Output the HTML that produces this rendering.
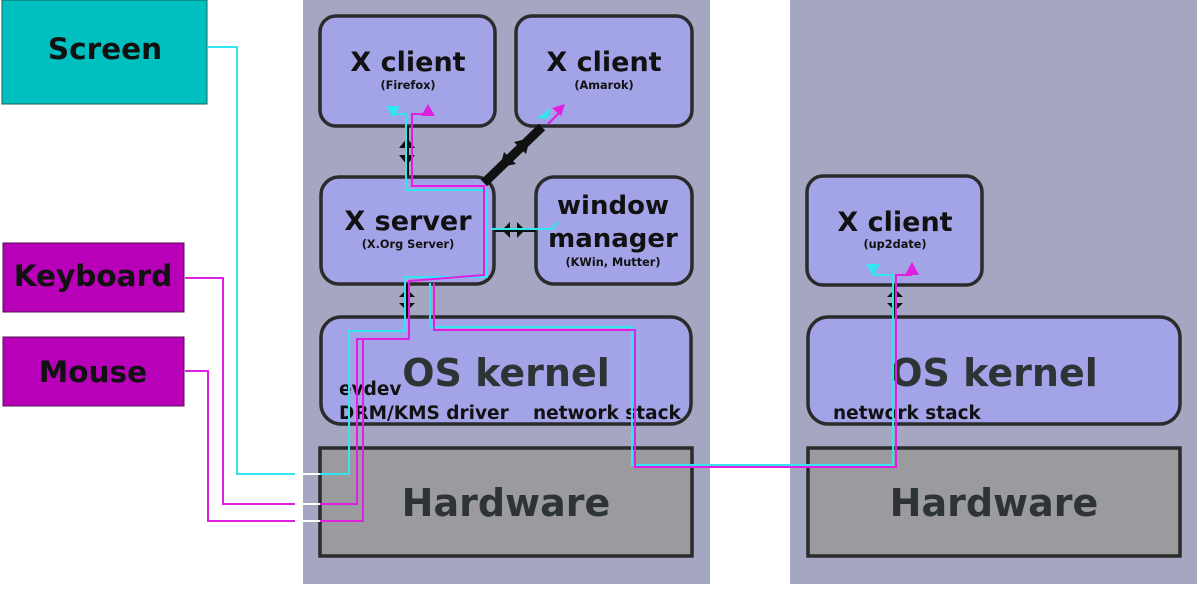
<!DOCTYPE html>
<html><head><meta charset="utf-8"><style>
html,body{margin:0;padding:0;background:#fff;}
svg{display:block;font-family:"DejaVu Sans","Liberation Sans",sans-serif;font-weight:bold;}
</style></head><body>
<svg width="1200" height="600" viewBox="0 0 1200 600" xmlns="http://www.w3.org/2000/svg">
<rect x="303" y="0" width="407" height="584" fill="#a5a7c2"/>
<rect x="790" y="0" width="407" height="584" fill="#a5a7c2"/>

<rect x="2" y="0" width="205" height="104" fill="#00bfbf" stroke="#1a6060" stroke-width="1"/>
<text x="105" y="59" font-size="29.5" text-anchor="middle" fill="#111">Screen</text>
<rect x="3" y="243" width="181" height="69" fill="#b800b8" stroke="#501050" stroke-width="1"/>
<text x="93" y="286" font-size="29.5" text-anchor="middle" fill="#111">Keyboard</text>
<rect x="3" y="337" width="181" height="69" fill="#b800b8" stroke="#501050" stroke-width="1"/>
<text x="93" y="382" font-size="29.5" text-anchor="middle" fill="#111">Mouse</text>

<g stroke="#2b2b2b" stroke-width="3.5" fill="#a3a3e8">
<rect x="320" y="16" width="175" height="110" rx="16"/>
<rect x="516" y="16" width="176" height="110" rx="16"/>
<rect x="321" y="177" width="173" height="107" rx="18"/>
<rect x="536" y="177" width="156" height="107" rx="18"/>
<rect x="321" y="317" width="370" height="107" rx="20"/>
<rect x="807" y="176" width="175" height="109" rx="16"/>
<rect x="808" y="317" width="372" height="107" rx="20"/>
<rect x="320" y="448" width="372" height="108" fill="#9b9a9f"/>
<rect x="808" y="448" width="372" height="108" fill="#9b9a9f"/>
</g>

<g fill="#111" text-anchor="middle">
<text x="408" y="71" font-size="27">X client</text>
<text x="408" y="89" font-size="11.3">(Firefox)</text>
<text x="604" y="71" font-size="27">X client</text>
<text x="604" y="89" font-size="11.3">(Amarok)</text>
<text x="408" y="230" font-size="27">X server</text>
<text x="408" y="248" font-size="11.3">(X.Org Server)</text>
<text x="613" y="214" font-size="26">window</text>
<text x="613" y="247" font-size="26">manager</text>
<text x="613" y="266" font-size="11.3">(KWin, Mutter)</text>
<text x="895" y="231" font-size="27">X client</text>
<text x="895" y="248" font-size="11.3">(up2date)</text>
</g>
<g fill="#2e3336" text-anchor="middle" font-size="38">
<text x="506" y="386">OS kernel</text>
<text x="994" y="386">OS kernel</text>
<text x="506" y="516">Hardware</text>
<text x="994" y="516">Hardware</text>
</g>
<g fill="#111" font-size="18.5">
<text x="339" y="395">evdev</text>
<text x="339" y="419">DRM/KMS driver</text>
<text x="533" y="419">network stack</text>
<text x="833" y="419">network stack</text>
</g>

<!-- black connectors -->
<g stroke="#111" fill="#111">
<line x1="407" y1="126" x2="407" y2="177" stroke-width="4"/>
<line x1="407" y1="284" x2="407" y2="317" stroke-width="4"/>
<line x1="484" y1="183" x2="542" y2="127" stroke-width="9"/>
<line x1="494" y1="230" x2="536" y2="230" stroke-width="4"/>
<line x1="895" y1="285" x2="895" y2="317" stroke-width="4"/>
</g>
<g fill="#111">
<polygon points="399,148 415,148 407,138"/><polygon points="399,155 415,155 407,165"/>
<polygon points="399,297 415,297 407,289"/><polygon points="399,303 415,303 407,311"/>
<polygon points="887,297 903,297 895,289"/><polygon points="887,303 903,303 895,311"/>
<polygon points="510,222 510,238 502,230"/><polygon points="517,222 517,238 525,230"/>
<polygon points="504,152 516,164 500,167"/><polygon points="514,142 526,154 530,138"/>
</g>

<!-- cyan lines -->
<g fill="none" stroke="#33e5f0" stroke-width="2">
<polyline points="207,47 237,47 237,474 349,474 349,331 405,331 405,277 487,277 487,190 406,190 406,114 392,114"/>
<polyline points="430,283 430,327 632,327 632,465 893,465 893,275 873,275"/>
<polyline points="491,229 552,229 558,222"/>
<line x1="548" y1="115" x2="538" y2="118"/>
</g>
<g fill="none" stroke="#e020e0" stroke-width="2">
<polyline points="185,278 223,278 223,504 357,504 357,339 409,339 409,281 484,275 484,186 412,186 412,114 428,114"/>
<polyline points="185,371 208,371 208,521 363,521 363,339"/>
<polyline points="434,283 434,330 635,330 635,467 896,467 896,275 912,275"/>
<line x1="548" y1="124" x2="560" y2="112"/>
</g>
<g fill="#33e5f0"><polygon points="386,106 400,106 393,118"/><polygon points="866,264 880,264 873,276"/><polygon points="538,118 550,108 548,119"/></g>
<g fill="#e020e0"><polygon points="421,116 435,116 428,104"/><polygon points="905,275 919,275 912,262"/><polygon points="565,104 552,108 561,116"/></g>
<line x1="295" y1="474" x2="320" y2="474" stroke="#fff" stroke-width="2"/>
<line x1="295" y1="504" x2="320" y2="504" stroke="#fff" stroke-width="2"/>
<line x1="295" y1="521" x2="320" y2="521" stroke="#fff" stroke-width="2"/>
</svg>
</body></html>
